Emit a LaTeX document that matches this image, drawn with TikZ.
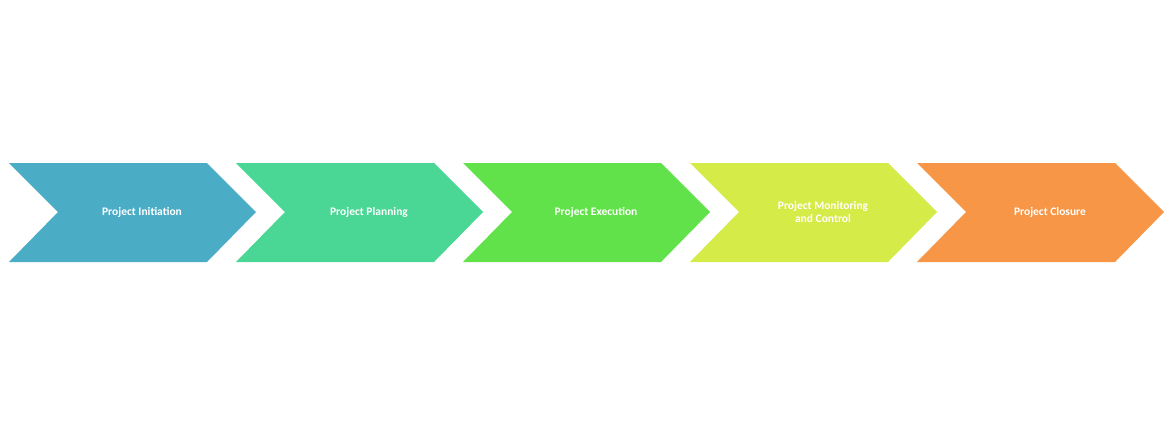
\documentclass[tikz,border=0pt]{standalone}
\usepackage{fontspec}
\setmainfont{Carlito}
\definecolor{c1}{HTML}{4BACC6}
\definecolor{c2}{HTML}{4AD694}
\definecolor{c3}{HTML}{62E24A}
\definecolor{c4}{HTML}{D5EB48}
\definecolor{c5}{HTML}{F79646}
\tikzset{lbl/.style={text=white,font=\bfseries\fontsize{11.5}{13}\selectfont,align=center}}
\begin{document}
\begin{tikzpicture}[x=1pt,y=-1pt]
\useasboundingbox (0,0) rectangle (1170,426);
\foreach \i/\c/\t in {0/c1/Project Initiation,1/c2/Project Planning,2/c3/Project Execution,3/c4/{Project Monitoring\\and Control},4/c5/Project Closure}{
  \pgfmathsetmacro{\x}{9+227*\i}
  \fill[\c] (\x,163) -- ++(198,0) -- ++(49,49) -- ++(-49,50) -- ++(-198,0) -- ++(49,-50) -- cycle;
  \node[lbl] (n\i) at (\x+133,212) {\t};
}
\end{tikzpicture}
\end{document}
